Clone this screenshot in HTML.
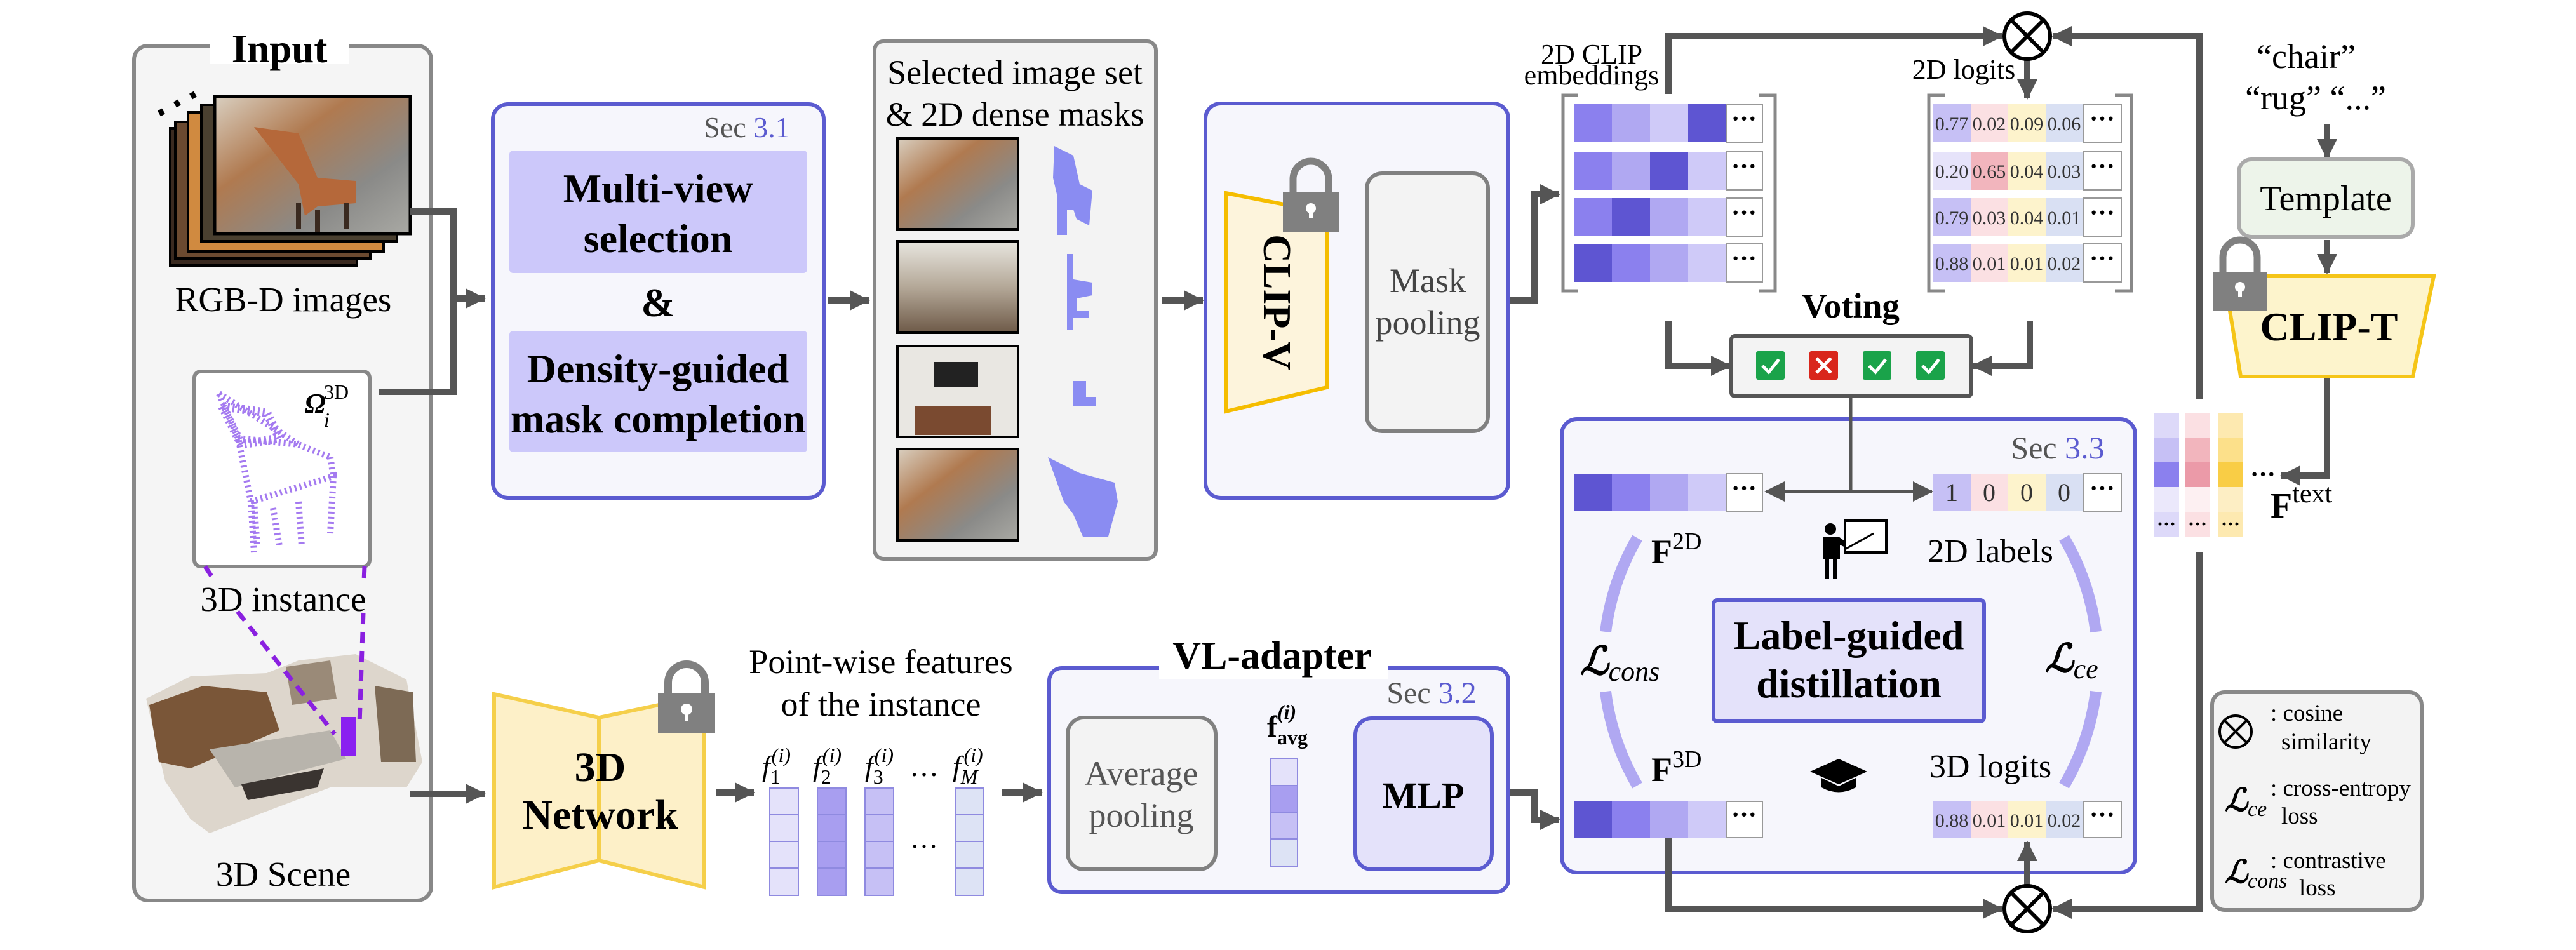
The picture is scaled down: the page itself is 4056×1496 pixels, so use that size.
<!DOCTYPE html>
<html><head><meta charset="utf-8"><style>
html,body{margin:0;padding:0;background:#fff}
svg{display:block}
svg text, svg tspan{font-family:"Liberation Serif","Times New Roman",serif !important}
</style></head><body>
<svg width="4056" height="1496" viewBox="0 0 4056 1496" xmlns="http://www.w3.org/2000/svg" font-family="Liberation Serif, serif">
<defs>
<marker id="ah" markerUnits="userSpaceOnUse" markerWidth="40" markerHeight="40" refX="30" refY="16" orient="auto">
<path d="M0,0 L32,16 L0,32 z" fill="#555"/></marker>
<linearGradient id="photo" x1="0" y1="0" x2="1" y2="1">
<stop offset="0" stop-color="#d9cfc0"/><stop offset=".35" stop-color="#b07a50"/><stop offset=".7" stop-color="#8a8a88"/><stop offset="1" stop-color="#a9a9a4"/></linearGradient>
<linearGradient id="photo2" x1="0" y1="0" x2="0" y2="1">
<stop offset="0" stop-color="#e8e6e0"/><stop offset=".5" stop-color="#b4a898"/><stop offset="1" stop-color="#6e5a48"/></linearGradient>
</defs>

<!-- Input box -->
<rect x="211" y="72" width="468" height="1346" rx="22" fill="#f5f5f5" stroke="#888" stroke-width="6"/>
<rect x="330" y="40" width="220" height="60" fill="#fff"/>
<text x="440" y="98" font-size="63" font-weight="bold" text-anchor="middle">Input</text>
<!-- RGB-D stack -->
<rect x="268" y="202" width="294" height="216" fill="#3a2a20" stroke="#000" stroke-width="4"/>
<rect x="276" y="192" width="307" height="215" fill="#6b4a30" stroke="#000" stroke-width="4"/>
<rect x="296" y="177" width="308" height="219" fill="#d08a40" stroke="#000" stroke-width="4"/>
<rect x="317" y="165" width="308" height="215" fill="#4a4030" stroke="#000" stroke-width="4"/>
<rect x="338" y="152" width="308" height="216" fill="url(#photo)" stroke="#000" stroke-width="5"/>
<path d="M400,200 L470,210 L500,280 L560,285 L560,320 L500,325 L480,340 L470,290 Z" fill="#b5683a"/>
<path d="M470,320 V360 M545,320 V360 M500,330 V365" stroke="#3a2a20" stroke-width="8"/>
<rect x="250" y="172" width="8" height="10" fill="#000" transform="rotate(-30 254 177)"/>
<rect x="275" y="158" width="8" height="10" fill="#000" transform="rotate(-30 279 163)"/>
<rect x="300" y="145" width="8" height="10" fill="#000" transform="rotate(-30 304 150)"/>
<text x="446" y="490" font-size="55" text-anchor="middle">RGB-D images</text>
<!-- 3D instance -->
<rect x="306" y="585" width="276" height="307" rx="10" fill="#fff" stroke="#888" stroke-width="6"/>
<g fill="none" stroke="#a47af0" stroke-width="10" stroke-dasharray="3 5">
<path d="M345,620 L375,690 L395,790 L400,870 M345,620 L440,680 L470,700 M375,690 L470,700 L520,720 M395,790 L525,750 L520,840 M400,790 L405,860 M470,790 L475,860 M520,720 L525,750 M430,800 L440,860"/>
<path d="M350,640 L380,700 L440,690 L420,650 Z" stroke-width="14"/>
</g>
<text x="480" y="650" font-size="44" font-weight="bold" font-style="italic">Ω</text>
<text x="510" y="628" font-size="32">3D</text>
<text x="510" y="672" font-size="32" font-style="italic">i</text>
<text x="446" y="962" font-size="55" text-anchor="middle">3D instance</text>
<!-- 3D scene -->
<g>
<path d="M230,1100 L300,1065 L420,1060 L470,1040 L560,1030 L640,1070 L665,1200 L640,1240 L520,1240 L440,1270 L330,1312 L300,1290 L260,1230 Z" fill="#ddd6cc"/>
<path d="M235,1110 L320,1080 L420,1090 L440,1150 L300,1210 L250,1200 Z" fill="#7a5638"/>
<path d="M330,1180 L520,1150 L545,1195 L370,1240 Z" fill="#b8b4ac"/>
<path d="M380,1235 L510,1210 L500,1240 L390,1260 Z" fill="#3a3430"/>
<path d="M590,1080 L650,1090 L655,1200 L600,1200 Z" fill="#7d6a55"/>
<path d="M450,1050 L520,1040 L530,1100 L460,1110 Z" fill="#9a8a78"/>
<rect x="537" y="1129" width="24" height="62" fill="#8a20f0"/>
</g>
<g stroke="#8a20e0" stroke-width="7" stroke-dasharray="18 12" fill="none">
<path d="M323,892 L336,912"/><path d="M374,963 L527,1156"/>
<path d="M574,892 L573,915"/><path d="M572,965 L566,1140"/>
</g>
<text x="446" y="1395" font-size="55" text-anchor="middle">3D Scene</text>

<!-- connectors left -->
<g fill="none" stroke="#555" stroke-width="10">
<path d="M646,333 H714 V617 H597"/>
<path d="M714,470 H763" marker-end="url(#ah)"/>
<path d="M1303,473 H1368" marker-end="url(#ah)"/>
<path d="M1830,473 H1894" marker-end="url(#ah)"/>
<path d="M2089,473 H2150" marker-end="url(#ah)"/>
<path d="M2375,473 H2416 V306 H2455" marker-end="url(#ah)"/>
<path d="M646,1250 H763" marker-end="url(#ah)"/>
<path d="M1127,1248 H1187" marker-end="url(#ah)"/>
<path d="M1577,1248 H1640" marker-end="url(#ah)"/>
<path d="M1927,1248 H1989" marker-end="url(#ah)"/>
<path d="M2060,1248 H2120" marker-end="url(#ah)"/>
<path d="M2375,1248 H2416 V1291 H2455" marker-end="url(#ah)"/>
</g>

<!-- Sec 3.1 -->
<rect x="776" y="164" width="521" height="620" rx="24" fill="#f6f6fc" stroke="#5b5bd0" stroke-width="6"/>
<text x="1176" y="216" font-size="46" text-anchor="middle" fill="#555">Sec <tspan fill="#5b5bd0">3.1</tspan></text>
<rect x="802" y="237" width="469" height="193" rx="6" fill="#ccc8fa"/>
<text x="1036" y="318" font-size="64" font-weight="bold" text-anchor="middle">Multi-view</text>
<text x="1036" y="397" font-size="64" font-weight="bold" text-anchor="middle">selection</text>
<text x="1036" y="498" font-size="64" font-weight="bold" text-anchor="middle">&amp;</text>
<rect x="802" y="521" width="469" height="191" rx="6" fill="#ccc8fa"/>
<text x="1036" y="602" font-size="64" font-weight="bold" text-anchor="middle">Density-guided</text>
<text x="1036" y="681" font-size="64" font-weight="bold" text-anchor="middle">mask completion</text>

<!-- Selected images -->
<rect x="1377" y="65" width="443" height="815" rx="14" fill="#f3f3f3" stroke="#888" stroke-width="6"/>
<text x="1598" y="132" font-size="54" text-anchor="middle">Selected image set</text>
<text x="1598" y="198" font-size="54" text-anchor="middle">&amp; 2D dense masks</text>
<g stroke="#000" stroke-width="4">
<rect x="1413" y="218" width="190" height="143" fill="url(#photo)"/>
<rect x="1413" y="380" width="190" height="144" fill="url(#photo2)"/>
<rect x="1413" y="545" width="190" height="143" fill="#e9e7e2"/>
<rect x="1413" y="707" width="190" height="144" fill="url(#photo)"/>
</g>
<rect x="1470" y="570" width="70" height="40" fill="#222"/>
<rect x="1440" y="640" width="120" height="45" fill="#7a4a30"/>
<g fill="#8a8cf2">
<path d="M1660,230 L1690,245 L1700,290 L1720,300 L1715,355 L1695,345 L1690,330 L1680,330 L1680,370 L1665,370 L1665,310 L1658,280 Z"/>
<path d="M1680,400 L1690,400 L1690,440 L1720,445 L1720,465 L1695,470 L1695,490 L1715,490 L1715,500 L1690,500 L1690,520 L1680,520 Z"/>
<path d="M1690,600 L1710,600 L1710,625 L1725,625 L1725,640 L1690,640 Z"/>
<path d="M1650,720 L1700,745 L1755,760 L1760,790 L1745,845 L1705,845 L1690,810 L1675,790 Z"/>
</g>

<!-- CLIP-V box -->
<rect x="1898" y="163" width="477" height="621" rx="24" fill="#f6f6fc" stroke="#5b5bd0" stroke-width="6"/>
<path d="M1930,304 L2089,335 L2089,610 L1930,648 Z" fill="#fdf4dc" stroke="#f5bd00" stroke-width="6"/>
<text transform="translate(1990,476) rotate(90)" font-size="62" font-weight="bold" text-anchor="middle">CLIP-V</text>
<g fill="#808080">
<path d="M2036,308 V282 A28,28 0 0 1 2092,282 V308" fill="none" stroke="#808080" stroke-width="11"/>
<rect x="2020" y="303" width="89" height="62"/>
<circle cx="2064" cy="328" r="8" fill="#fff"/><rect x="2061" y="330" width="6" height="14" fill="#fff"/>
</g>
<rect x="2152" y="273" width="191" height="406" rx="24" fill="#f3f3f3" stroke="#808080" stroke-width="6"/>
<text x="2248" y="460" font-size="54" text-anchor="middle" fill="#444">Mask</text>
<text x="2248" y="526" font-size="54" text-anchor="middle" fill="#444">pooling</text>

<!-- 2D CLIP embeddings -->
<text x="2506" y="100" font-size="44" text-anchor="middle">2D CLIP</text>
<text x="2506" y="133" font-size="44" text-anchor="middle">embeddings</text>
<g fill="none" stroke="#888" stroke-width="5">
<path d="M2485,150 H2461 V458 H2485"/><path d="M2770,150 H2795 V458 H2770"/>
<path d="M3062,150 H3037 V458 H3062"/><path d="M3330,150 H3356 V458 H3330"/>
</g>
<g>
<rect x="2478" y="164" width="60" height="60" fill="#8b80ee"/><rect x="2538" y="164" width="60" height="60" fill="#b0a8f2"/><rect x="2598" y="164" width="60" height="60" fill="#cfcaf8"/><rect x="2658" y="164" width="60" height="60" fill="#5e55d2"/>
<rect x="2478" y="239" width="60" height="60" fill="#8b80ee"/><rect x="2538" y="239" width="60" height="60" fill="#b0a8f2"/><rect x="2598" y="239" width="60" height="60" fill="#5e55d2"/><rect x="2658" y="239" width="60" height="60" fill="#cfcaf8"/>
<rect x="2478" y="312" width="60" height="60" fill="#8b80ee"/><rect x="2538" y="312" width="60" height="60" fill="#5e55d2"/><rect x="2598" y="312" width="60" height="60" fill="#b0a8f2"/><rect x="2658" y="312" width="60" height="60" fill="#cfcaf8"/>
<rect x="2478" y="384" width="60" height="60" fill="#5e55d2"/><rect x="2538" y="384" width="60" height="60" fill="#8b80ee"/><rect x="2598" y="384" width="60" height="60" fill="#b0a8f2"/><rect x="2658" y="384" width="60" height="60" fill="#cfcaf8"/>
</g>
<g fill="#fff" stroke="#999" stroke-width="2">
<rect x="2718" y="164" width="57" height="60"/><rect x="2718" y="239" width="57" height="60"/><rect x="2718" y="312" width="57" height="60"/><rect x="2718" y="384" width="57" height="60"/>
</g>
<g font-size="40" font-weight="bold" text-anchor="middle">
<text x="2746" y="200">···</text><text x="2746" y="275">···</text><text x="2746" y="348">···</text><text x="2746" y="420">···</text>
</g>

<!-- 2D logits -->
<text x="3092" y="124" font-size="44" text-anchor="middle">2D logits</text>
<g>
<rect x="3044" y="164" width="59" height="60" fill="#c6c0f5"/><rect x="3103" y="164" width="59" height="60" fill="#fbe0e3"/><rect x="3162" y="164" width="59" height="60" fill="#fdf3cc"/><rect x="3221" y="164" width="59" height="60" fill="#d9e0f3"/>
<rect x="3044" y="239" width="59" height="60" fill="#e6e3fa"/><rect x="3103" y="239" width="59" height="60" fill="#f2b5bd"/><rect x="3162" y="239" width="59" height="60" fill="#fdf3cc"/><rect x="3221" y="239" width="59" height="60" fill="#d9e0f3"/>
<rect x="3044" y="312" width="59" height="60" fill="#c6c0f5"/><rect x="3103" y="312" width="59" height="60" fill="#fbe0e3"/><rect x="3162" y="312" width="59" height="60" fill="#fdf3cc"/><rect x="3221" y="312" width="59" height="60" fill="#d9e0f3"/>
<rect x="3044" y="384" width="59" height="60" fill="#c6c0f5"/><rect x="3103" y="384" width="59" height="60" fill="#fbe0e3"/><rect x="3162" y="384" width="59" height="60" fill="#fdf3cc"/><rect x="3221" y="384" width="59" height="60" fill="#d9e0f3"/>
</g>
<g fill="#fff" stroke="#999" stroke-width="2">
<rect x="3280" y="164" width="60" height="60"/><rect x="3280" y="239" width="60" height="60"/><rect x="3280" y="312" width="60" height="60"/><rect x="3280" y="384" width="60" height="60"/>
</g>
<g font-size="30" text-anchor="middle" fill="#333">
<text x="3073" y="205">0.77</text><text x="3132" y="205">0.02</text><text x="3191" y="205">0.09</text><text x="3250" y="205">0.06</text>
<text x="3073" y="280">0.20</text><text x="3132" y="280">0.65</text><text x="3191" y="280">0.04</text><text x="3250" y="280">0.03</text>
<text x="3073" y="353">0.79</text><text x="3132" y="353">0.03</text><text x="3191" y="353">0.04</text><text x="3250" y="353">0.01</text>
<text x="3073" y="425">0.88</text><text x="3132" y="425">0.01</text><text x="3191" y="425">0.01</text><text x="3250" y="425">0.02</text>
</g>
<g font-size="40" font-weight="bold" text-anchor="middle">
<text x="3310" y="200">···</text><text x="3310" y="275">···</text><text x="3310" y="348">···</text><text x="3310" y="420">···</text>
</g>

<!-- Sec 3.3 box -->
<rect x="2459" y="660" width="903" height="714" rx="24" fill="#f6f6fc" stroke="#5b5bd0" stroke-width="6"/>
<text x="3240" y="722" font-size="50" text-anchor="middle" fill="#555">Sec <tspan fill="#5b5bd0">3.3</tspan></text>

<!-- right connectors -->
<g fill="none" stroke="#555" stroke-width="10">
<path d="M2627,148 V57 H3152" marker-end="url(#ah)"/>
<path d="M3463,628 V57 H3232" marker-end="url(#ah)"/>
<path d="M3192,94 V155" marker-end="url(#ah)"/>
<path d="M2627,505 V576 H2724" marker-end="url(#ah)"/>
<path d="M3196,505 V576 H3106" marker-end="url(#ah)"/>
<path d="M2627,1319 V1431 H3152" marker-end="url(#ah)"/>
<path d="M3463,870 V1431 H3232" marker-end="url(#ah)"/>
<path d="M3192,1394 V1326" marker-end="url(#ah)"/>
<path d="M3664,196 V249" marker-end="url(#ah)"/>
<path d="M3664,378 V430" marker-end="url(#ah)"/>
<path d="M3664,593 V749 H3592" marker-end="url(#ah)"/>
</g>
<g fill="none" stroke="#555" stroke-width="5">
<path d="M2914,624 V774"/>
<path d="M2914,774 H2780" marker-end="url(#ah)"/>
<path d="M2914,774 H3042" marker-end="url(#ah)"/>
</g>

<!-- cosine circles -->
<g fill="#fff" stroke="#000" stroke-width="6">
<circle cx="3192" cy="57" r="36"/><circle cx="3192" cy="1431" r="36"/>
<path d="M3167,32 L3217,82 M3217,32 L3167,82 M3167,1406 L3217,1456 M3217,1406 L3167,1456"/>
</g>

<!-- Voting -->
<text x="2914" y="500" font-size="55" font-weight="bold" text-anchor="middle">Voting</text>
<rect x="2726" y="529" width="378" height="95" rx="6" fill="#f3f3f3" stroke="#555" stroke-width="6"/>
<g>
<rect x="2765" y="553" width="45" height="45" rx="3" fill="#1aa34a"/><rect x="2849" y="553" width="45" height="45" rx="3" fill="#d9261c"/>
<rect x="2933" y="553" width="45" height="45" rx="3" fill="#1aa34a"/><rect x="3017" y="553" width="45" height="45" rx="3" fill="#1aa34a"/>
<g fill="none" stroke="#fff" stroke-width="5">
<path d="M2775,576 L2785,586 L2801,566"/><path d="M2943,576 L2953,586 L2969,566"/><path d="M3027,576 L3037,586 L3053,566"/>
<path d="M2860,564 L2883,587 M2883,564 L2860,587"/>
</g></g>

<!-- F2D / labels rows -->
<rect x="2478" y="746" width="60" height="59" fill="#5e55d2"/><rect x="2538" y="746" width="60" height="59" fill="#8b80ee"/><rect x="2598" y="746" width="60" height="59" fill="#b0a8f2"/><rect x="2658" y="746" width="60" height="59" fill="#cfcaf8"/>
<rect x="2718" y="746" width="57" height="59" fill="#fff" stroke="#999" stroke-width="2"/>
<text x="2746" y="782" font-size="40" font-weight="bold" text-anchor="middle">···</text>
<rect x="3044" y="746" width="59" height="59" fill="#c6c0f5"/><rect x="3103" y="746" width="59" height="59" fill="#fbe0e3"/><rect x="3162" y="746" width="59" height="59" fill="#fdf3cc"/><rect x="3221" y="746" width="59" height="59" fill="#d9e0f3"/>
<rect x="3280" y="746" width="60" height="59" fill="#fff" stroke="#999" stroke-width="2"/>
<g font-size="40" text-anchor="middle" fill="#333"><text x="3073" y="789">1</text><text x="3132" y="789">0</text><text x="3191" y="789">0</text><text x="3250" y="789">0</text></g>
<text x="3310" y="782" font-size="40" font-weight="bold" text-anchor="middle">···</text>

<!-- F3D / 3D logits rows -->
<rect x="2478" y="1262" width="60" height="57" fill="#5e55d2"/><rect x="2538" y="1262" width="60" height="57" fill="#8b80ee"/><rect x="2598" y="1262" width="60" height="57" fill="#b0a8f2"/><rect x="2658" y="1262" width="60" height="57" fill="#cfcaf8"/>
<rect x="2718" y="1262" width="57" height="57" fill="#fff" stroke="#999" stroke-width="2"/>
<text x="2746" y="1296" font-size="40" font-weight="bold" text-anchor="middle">···</text>
<rect x="3044" y="1262" width="59" height="57" fill="#c6c0f5"/><rect x="3103" y="1262" width="59" height="57" fill="#fbe0e3"/><rect x="3162" y="1262" width="59" height="57" fill="#fdf3cc"/><rect x="3221" y="1262" width="59" height="57" fill="#d9e0f3"/>
<rect x="3280" y="1262" width="60" height="57" fill="#fff" stroke="#999" stroke-width="2"/>
<g font-size="30" text-anchor="middle" fill="#333"><text x="3073" y="1302">0.88</text><text x="3132" y="1302">0.01</text><text x="3191" y="1302">0.01</text><text x="3250" y="1302">0.02</text></g>
<text x="3310" y="1296" font-size="40" font-weight="bold" text-anchor="middle">···</text>

<!-- arcs -->
<g fill="none" stroke="#b0a8f2" stroke-width="18">
<path d="M2578,847 A390,390 0 0 0 2528,995"/>
<path d="M2528,1089 A390,390 0 0 0 2578,1237"/>
<path d="M3250,847 A390,390 0 0 1 3300,995"/>
<path d="M3300,1089 A390,390 0 0 1 3250,1237"/>
</g>
<text x="2600" y="887" font-size="54" font-weight="bold">F<tspan font-size="38" font-weight="normal" dy="-22">2D</tspan></text>
<text x="2600" y="1230" font-size="54" font-weight="bold">F<tspan font-size="38" font-weight="normal" dy="-22">3D</tspan></text>
<text x="3134" y="885" font-size="52" text-anchor="middle">2D labels</text>
<text x="3134" y="1224" font-size="52" text-anchor="middle">3D logits</text>
<text x="2488" y="1062" font-size="62" font-weight="bold" font-style="italic">ℒ<tspan font-size="44" font-weight="normal" dy="10">cons</tspan></text>
<text x="3220" y="1058" font-size="62" font-weight="bold" font-style="italic">ℒ<tspan font-size="44" font-weight="normal" dy="10">ce</tspan></text>
<!-- teacher -->
<g fill="#000">
<circle cx="2882" cy="833" r="9"/>
<path d="M2870,845 H2895 L2915,860 L2912,865 L2897,858 V880 H2893 V912 H2886 V880 H2880 V912 H2873 V880 H2870 Z"/>
<rect x="2905" y="820" width="65" height="50" fill="#fff" stroke="#000" stroke-width="4"/>
<path d="M2905,865 L2950,840" stroke="#000" stroke-width="3"/>
</g>
<!-- grad cap -->
<g fill="#000">
<path d="M2850,1215 L2895,1195 L2940,1215 L2895,1235 Z"/>
<path d="M2868,1225 V1240 Q2895,1255 2922,1240 V1225 L2895,1238 Z"/>
</g>
<rect x="2698" y="945" width="426" height="191" rx="6" fill="#e4e2fa" stroke="#5b5bd0" stroke-width="6"/>
<text x="2911" y="1022" font-size="64" font-weight="bold" text-anchor="middle">Label-guided</text>
<text x="2911" y="1098" font-size="64" font-weight="bold" text-anchor="middle">distillation</text>

<!-- text feature stack -->
<g>
<rect x="3392" y="650" width="39" height="39" fill="#ddd9f9"/><rect x="3392" y="689" width="39" height="39" fill="#c6c0f5"/><rect x="3392" y="728" width="39" height="39" fill="#8b80ee"/><rect x="3392" y="767" width="39" height="39" fill="#ebe8fb"/><rect x="3392" y="806" width="39" height="40" fill="#ddd9f9"/>
<rect x="3441" y="650" width="39" height="39" fill="#fbe0e3"/><rect x="3441" y="689" width="39" height="39" fill="#f2b5bd"/><rect x="3441" y="728" width="39" height="39" fill="#eb9aa8"/><rect x="3441" y="767" width="39" height="39" fill="#fdf0f2"/><rect x="3441" y="806" width="39" height="40" fill="#fbe0e3"/>
<rect x="3493" y="650" width="39" height="39" fill="#fde9b0"/><rect x="3493" y="689" width="39" height="39" fill="#fce08a"/><rect x="3493" y="728" width="39" height="39" fill="#f9cd45"/><rect x="3493" y="767" width="39" height="39" fill="#fdeec4"/><rect x="3493" y="806" width="39" height="40" fill="#fde9b0"/>
</g>
<g font-size="30" font-weight="bold" text-anchor="middle"><text x="3411" y="835">···</text><text x="3460" y="835">···</text><text x="3512" y="835">···</text></g>
<text x="3563" y="760" font-size="40" font-weight="bold" text-anchor="middle">···</text>
<text x="3575" y="815" font-size="56" font-weight="bold">F<tspan font-size="42" font-weight="normal" dy="-24">text</tspan></text>

<!-- Text encoder side -->
<text x="3631" y="107" font-size="54" text-anchor="middle">“chair”</text>
<text x="3646" y="172" font-size="54" text-anchor="middle">“rug” “...”</text>
<rect x="3525" y="251" width="274" height="122" rx="20" fill="#edf4ea" stroke="#aaa" stroke-width="6"/>
<text x="3662" y="331" font-size="56" text-anchor="middle">Template</text>
<path d="M3502,435 L3832,435 L3799,593 L3528,593 Z" fill="#fdf4cc" stroke="#f5c518" stroke-width="6"/>
<text x="3667" y="536" font-size="64" font-weight="bold" text-anchor="middle">CLIP-T</text>
<g fill="#808080">
<path d="M3500,430 V405 A27,27 0 0 1 3554,405 V430" fill="none" stroke="#808080" stroke-width="11"/>
<rect x="3485" y="428" width="84" height="61"/>
<circle cx="3527" cy="452" r="8" fill="#fff"/><rect x="3524" y="454" width="6" height="14" fill="#fff"/>
</g>

<!-- Legend -->
<rect x="3483" y="1090" width="330" height="343" rx="20" fill="#f3f3f3" stroke="#888" stroke-width="6"/>
<g fill="none" stroke="#000" stroke-width="4"><circle cx="3520" cy="1152" r="25"/><path d="M3502,1134 L3538,1170 M3538,1134 L3502,1170"/></g>
<g font-size="37">
<text x="3575" y="1135">: cosine</text><text x="3592" y="1180">similarity</text>
<text x="3575" y="1253">: cross-entropy</text><text x="3592" y="1297">loss</text>
<text x="3575" y="1367">: contrastive</text><text x="3620" y="1410">loss</text>
</g>
<text x="3503" y="1277" font-size="50" font-weight="bold" font-style="italic">ℒ<tspan font-size="34" font-weight="normal" dy="8">ce</tspan></text>
<text x="3503" y="1390" font-size="50" font-weight="bold" font-style="italic">ℒ<tspan font-size="34" font-weight="normal" dy="8">cons</tspan></text>

<!-- 3D Network -->
<path d="M778,1093 L943,1130 L943,1355 L778,1397 Z" fill="#fdf0c8" stroke="#f5cf4a" stroke-width="6"/>
<path d="M943,1130 L1109,1095 L1109,1397 L943,1355 Z" fill="#fdf0c8" stroke="#f5cf4a" stroke-width="6"/>
<text x="945" y="1230" font-size="66" font-weight="bold" text-anchor="middle">3D</text>
<text x="945" y="1305" font-size="66" font-weight="bold" text-anchor="middle">Network</text>
<g fill="#808080">
<path d="M1052,1095 V1075 A29,29 0 0 1 1110,1075 V1095" fill="none" stroke="#808080" stroke-width="12"/>
<rect x="1036" y="1092" width="90" height="63"/>
<circle cx="1081" cy="1117" r="9" fill="#fff"/><rect x="1078" y="1120" width="6" height="15" fill="#fff"/>
</g>

<!-- Point-wise features -->
<text x="1387" y="1060" font-size="54" text-anchor="middle">Point-wise features</text>
<text x="1387" y="1127" font-size="54" text-anchor="middle">of the instance</text>
<g font-size="46" font-style="italic">
<text x="1200" y="1222">f<tspan font-size="32" font-style="normal" dy="12">1</tspan><tspan font-size="32" dx="-14" dy="-34">(i)</tspan></text>
<text x="1280" y="1222">f<tspan font-size="32" font-style="normal" dy="12">2</tspan><tspan font-size="32" dx="-14" dy="-34">(i)</tspan></text>
<text x="1362" y="1222">f<tspan font-size="32" font-style="normal" dy="12">3</tspan><tspan font-size="32" dx="-14" dy="-34">(i)</tspan></text>
<text x="1432" y="1222" font-style="normal">…</text>
<text x="1500" y="1222">f<tspan font-size="32" dy="12">M</tspan><tspan font-size="32" dx="-22" dy="-34">(i)</tspan></text>
</g>
<g stroke="#8f8ae0" stroke-width="2">
<rect x="1212" y="1241" width="45" height="42" fill="#e4e2fa"/><rect x="1212" y="1283" width="45" height="42" fill="#e4e2fa"/><rect x="1212" y="1325" width="45" height="42" fill="#e4e2fa"/><rect x="1212" y="1367" width="45" height="43" fill="#e4e2fa"/>
<rect x="1287" y="1241" width="45" height="42" fill="#a89ef0"/><rect x="1287" y="1283" width="45" height="42" fill="#a89ef0"/><rect x="1287" y="1325" width="45" height="42" fill="#a89ef0"/><rect x="1287" y="1367" width="45" height="43" fill="#a89ef0"/>
<rect x="1362" y="1241" width="45" height="42" fill="#c6c0f5"/><rect x="1362" y="1283" width="45" height="42" fill="#c6c0f5"/><rect x="1362" y="1325" width="45" height="42" fill="#c6c0f5"/><rect x="1362" y="1367" width="45" height="43" fill="#c6c0f5"/>
<rect x="1504" y="1241" width="45" height="42" fill="#dde3f5"/><rect x="1504" y="1283" width="45" height="42" fill="#dde3f5"/><rect x="1504" y="1325" width="45" height="42" fill="#dde3f5"/><rect x="1504" y="1367" width="45" height="43" fill="#dde3f5"/>
</g>
<text x="1455" y="1335" font-size="44" text-anchor="middle">…</text>

<!-- VL-adapter -->
<rect x="1652" y="1052" width="723" height="353" rx="20" fill="#f6f6fc" stroke="#5b5bd0" stroke-width="6"/>
<rect x="1825" y="1000" width="360" height="70" fill="#fff"/>
<text x="2003" y="1053" font-size="62" font-weight="bold" text-anchor="middle">VL-adapter</text>
<text x="2254" y="1107" font-size="48" text-anchor="middle" fill="#555">Sec <tspan fill="#5b5bd0">3.2</tspan></text>
<rect x="1681" y="1130" width="233" height="239" rx="26" fill="#f3f3f3" stroke="#808080" stroke-width="6"/>
<text x="1797" y="1236" font-size="54" text-anchor="middle" fill="#555">Average</text>
<text x="1797" y="1302" font-size="54" text-anchor="middle" fill="#555">pooling</text>
<text x="1995" y="1160" font-size="48" font-weight="bold">f<tspan font-size="32" dy="12">avg</tspan><tspan font-size="32" font-style="italic" dx="-48" dy="-40">(i)</tspan></text>
<g stroke="#8f8ae0" stroke-width="2">
<rect x="2001" y="1195" width="42" height="42" fill="#e4e2fa"/><rect x="2001" y="1237" width="42" height="42" fill="#a89ef0"/><rect x="2001" y="1279" width="42" height="42" fill="#c6c0f5"/><rect x="2001" y="1321" width="42" height="44" fill="#dde3f5"/>
</g>
<rect x="2134" y="1131" width="215" height="238" rx="26" fill="#e4e2fa" stroke="#5b5bd0" stroke-width="6"/>
<text x="2241" y="1272" font-size="58" font-weight="bold" text-anchor="middle">MLP</text>
</svg>
</body></html>
